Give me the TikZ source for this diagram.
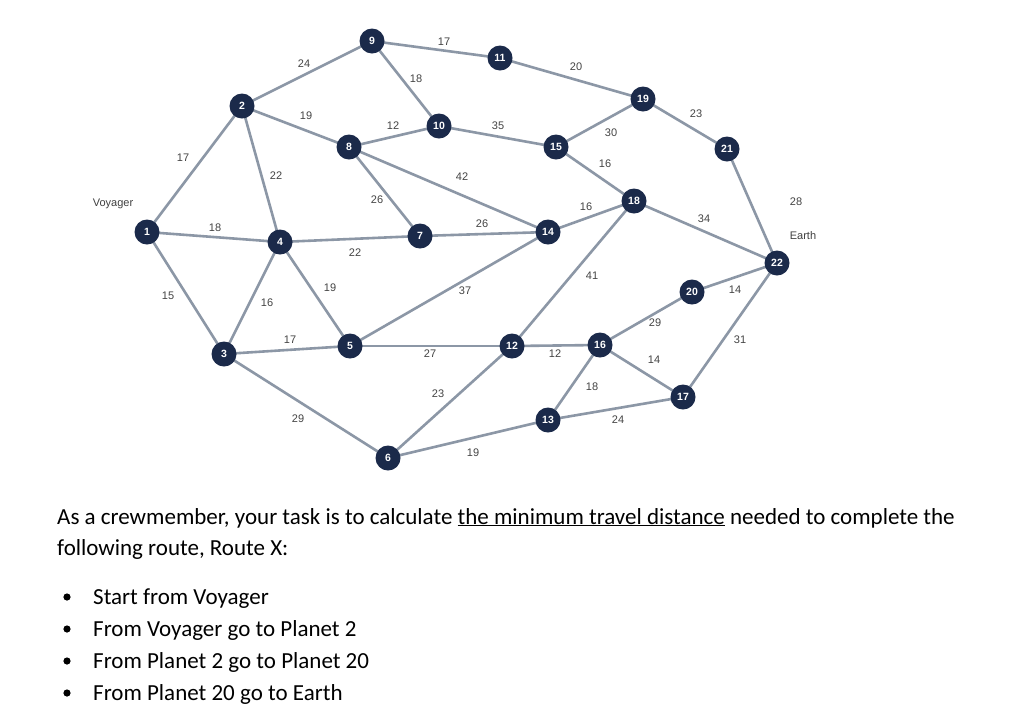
\documentclass[tikz,border=0pt]{standalone}
\usepackage{fontspec}
\setmainfont{Carlito}
\newfontfamily\lab{Liberation Sans}
\begin{document}
\begin{tikzpicture}[x=1pt,y=-1pt,
 pl/.style={circle,fill=navy,minimum size=25pt,inner sep=0pt,text=white,font=\lab\bfseries\fontsize{10.5}{11}\selectfont},
 ed/.style={draw=edgec,line width=2.6pt},
 wl/.style={font=\lab\fontsize{11}{12}\selectfont,text=labc,inner sep=1pt},
 txt/.style={anchor=base west,font=\fontsize{23}{26}\selectfont,inner sep=0pt}]
\definecolor{navy}{HTML}{1B2A4A}
\definecolor{edgec}{HTML}{8C97A6}
\definecolor{labc}{HTML}{444444}
\useasboundingbox (0,0) rectangle (1024,724);
\fill[white] (0,0) rectangle (1024,724);
\foreach \n/\x/\y in {1/147/232,2/242/106,3/224/354,4/280/242,5/350/346,6/388/458,7/420/236,8/349/147,9/372/41,10/439/126,11/500/58,12/512/346,13/548/420,14/548/232,15/556/147,16/600/345,17/683/397,18/634/201,19/643/99,20/692/292,21/727/149,22/777/263}
  \coordinate (c\n) at (\x,\y);
\foreach \a/\b/\w/\lx/\ly in {1/2/17/183/158,1/4/18/215/228,1/3/15/168/296,2/9/24/304/64,2/8/19/306/116,2/4/22/276/176,3/4/16/267/303,3/5/17/290/340,3/6/29/298/419,4/7/22/355/253,4/5/19/330/288,8/10/12/393/126,8/7/26/377/200,8/14/42/462/177,9/10/18/416/79,9/11/17/444/42,10/15/35/498/126,11/19/20/576/67,7/14/26/482/224,5/14/37/465/291,5/12/27/430/354,6/12/23/438/394,6/13/19/473/453,12/18/41/592/276,12/16/12/555/354,13/16/18/592/387,13/17/24/618/420,16/17/14/654/360,16/20/29/655/323,14/18/16/586/207,15/19/30/611/133,15/18/16/605/164,18/22/34/704/219,19/21/23/696/114,21/22/28/796/202,20/22/14/735/290,17/22/31/740/340}
 { \draw[ed] (c\a) -- (c\b); \node[wl] (w\a-\b) at (\lx,\ly) {\w}; }
\foreach \n in {1,...,22} \node[pl] (p\n) at (c\n) {\n};
\node[wl,text=black!75] (voy) at (113,204) {Voyager};
\node[wl,text=black!75] (earth) at (803,236) {Earth};
\node[txt] (t1) at (57,524) {As a crewmember, your task is to calculate \underline{the minimum travel distance} needed to complete the};
\node[txt] (t2) at (57,555) {following route, Route X:};
\foreach \i/\y/\s in {1/604/Start from Voyager,2/636/From Voyager go to Planet 2,3/668/From Planet 2 go to Planet 20,4/700/From Planet 20 go to Earth}{
 \fill (67,\y-7) circle (3.6pt);
 \node[txt] (b\i) at (93,\y) {\s};}
\end{tikzpicture}
\end{document}
